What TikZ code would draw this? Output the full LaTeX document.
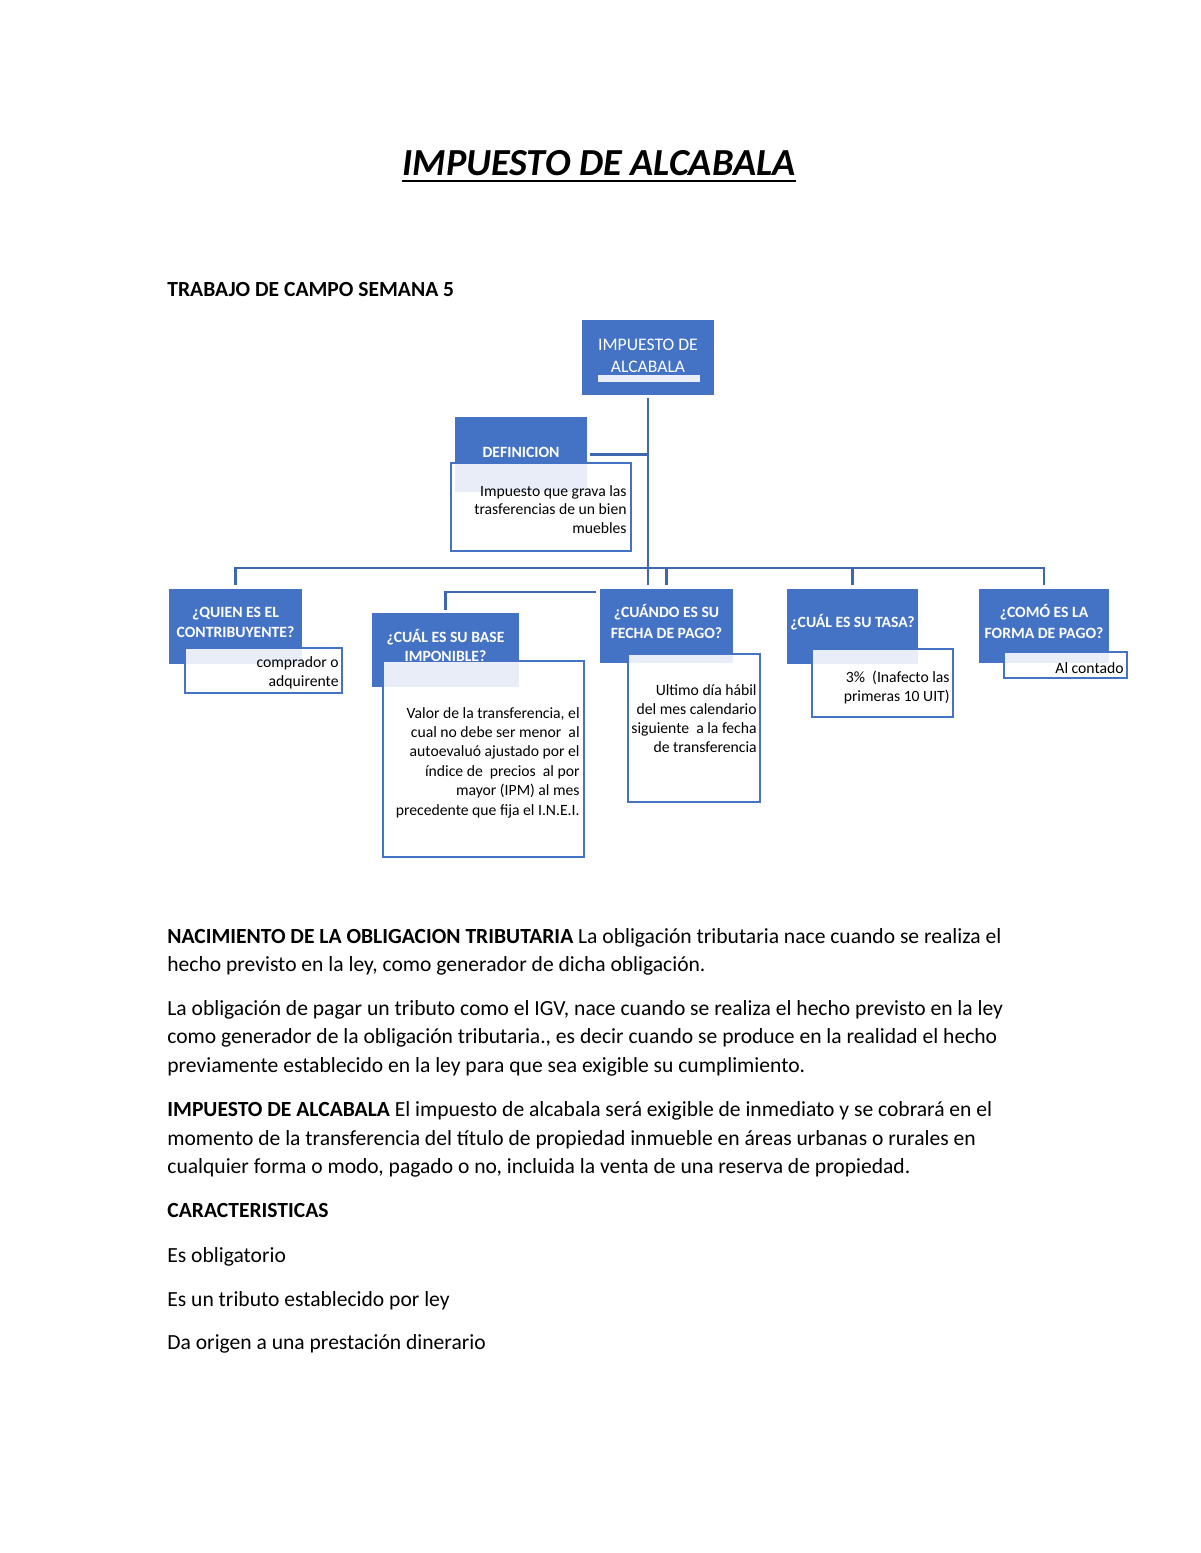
\documentclass[tikz,border=0pt]{standalone}
\usepackage{fontspec}
\setmainfont{Carlito}
\definecolor{sablue}{HTML}{4472C4}
\definecolor{lnblue}{HTML}{3F67B0}
\definecolor{lightbar}{HTML}{E9EEF8}
\newcommand\mkbox[6]{\node[#1, minimum width={(#5-#3)*0.51pt}, minimum height={(#6-#4)*0.51pt}] (#2) at ({(#3+#5)/2},{(#4+#6)/2}) {};}
\tikzset{
  hdrbox/.style={rectangle, fill=sablue, draw=none, inner sep=0pt, outer sep=0pt},
  txtbox/.style={rectangle, fill=white, fill opacity=0.88, draw=sablue, draw opacity=1, line width=1pt, inner sep=0pt, outer sep=0pt},
  barbox/.style={rectangle, fill=lightbar, draw=none, inner sep=0pt},
  conn/.style={draw=lnblue, line width=1.3pt},
  htxt/.style={inner sep=0pt, text=white, font=\fontsize{8}{9.6}\selectfont\bfseries, anchor=base},
  rtxt/.style={inner sep=0pt, text=white, font=\fontsize{9}{10.8}\selectfont, anchor=base},
  btxt/.style={inner sep=0pt, text=black, font=\fontsize{8}{9.6}\selectfont, anchor=base east},
  body/.style={inner sep=0pt, text=black, font=\fontsize{11}{13.4}\selectfont, anchor=base west},
}
\begin{document}
\begin{tikzpicture}[x=0.51pt, y=-0.51pt]
\useasboundingbox (0,0) rectangle (1200,1553);

% title
\node[inner sep=0pt, anchor=base, font=\fontsize{19.5}{23}\selectfont\bfseries\itshape] (title) at (599,176) {IMPUESTO DE ALCABALA};
\draw[line width=1.3pt] ([shift={(0,5)}]title.base west) -- ([shift={(0,5)}]title.base east);

\node[body] (sub) at (167,296) {\textbf{TRABAJO DE CAMPO SEMANA 5}};

% connectors
\coordinate (bar) at (648,568);
\coordinate (bEnd) at (596,592);

% boxes (drawn after connectors where needed)
\mkbox{hdrbox}{root}{582}{320}{714}{395}
\mkbox{barbox}{rootbar}{598}{375}{700}{382}
\mkbox{hdrbox}{hd}{455}{417}{587}{492}
\mkbox{hdrbox}{hq}{169}{589}{302}{664}
\mkbox{hdrbox}{hb}{372}{613}{519}{687}
\mkbox{hdrbox}{hc}{600}{589}{733}{663}
\mkbox{hdrbox}{ht}{787}{589}{918}{664}
\mkbox{hdrbox}{hm}{979}{589}{1109}{663}

\draw[conn] ([shift={(0,3)}]root.south) -- ([shift={(0,-4)}]root.south |- hc.north);
\draw[conn] ([shift={(3,0)}]hd.east) -- (hd.east -| root.south);
\draw[conn] ([shift={(0,-4)}]hq.north) |- (bar) -| ([shift={(0,-4)}]hm.north);
\draw[conn] (bar -| hc.north) -- ([shift={(0,-4)}]hc.north);
\draw[conn] (bar -| ht.north) -- ([shift={(0,-4)}]ht.north);
\draw[conn] ([shift={(0,-3)}]hb.north) |- (bEnd);

\mkbox{txtbox}{td}{451}{463}{631}{551}
\mkbox{txtbox}{tq}{185}{648}{342}{693}
\mkbox{txtbox}{tb}{383}{661}{584}{857}
\mkbox{txtbox}{tc}{628}{654}{760}{802}
\mkbox{txtbox}{tt}{812}{649}{953}{717}
\mkbox{txtbox}{tm}{1004}{652}{1127}{678}

% header texts
\node[rtxt] (r1) at (648,350) {IMPUESTO DE};
\node[rtxt] (r2) at (648,372) {ALCABALA};
\node[htxt] (d1) at (521,457) {DEFINICION};
\node[htxt] (q1) at (235.5,617) {¿QUIEN ES EL};
\node[htxt] (q2) at (235.5,637) {CONTRIBUYENTE?};
\node[htxt] (b1) at (445.5,642) {¿CUÁL ES SU BASE};
\node[htxt] (b2) at (445.5,661) {IMPONIBLE?};
\node[htxt] (c1) at (666.5,617) {¿CUÁNDO ES SU};
\node[htxt] (c2) at (666.5,638) {FECHA DE PAGO?};
\node[htxt] (t1) at (852.5,627) {¿CUÁL ES SU TASA?};
\node[htxt] (m1) at (1044,617) {¿COMÓ ES LA};
\node[htxt] (m2) at (1044,638) {FORMA DE PAGO?};

% box texts
\foreach \t [count=\i] in {Impuesto que grava las, trasferencias de un bien, muebles}
  \node[btxt] (dt\i) at (627,{496+18.5*(\i-1)}) {\t};
\foreach \t [count=\i] in {comprador o, adquirente}
  \node[btxt] (qt\i) at (339,{667+19*(\i-1)}) {\t};
\foreach \t [count=\i] in {{Valor de la transferencia, el}, cual no debe ser menor\ \ al, autoevaluó ajustado por el, índice de\ \ precios\ \ al por, mayor (IPM) al mes, precedente que fija el I.N.E.I.}
  \node[btxt] (bt\i) at (580,{718+19.4*(\i-1)}) {\t};
\foreach \t [count=\i] in {Ultimo día hábil, del mes calendario, siguiente\ \ a la fecha, de transferencia}
  \node[btxt] (ct\i) at (757,{695+19.3*(\i-1)}) {\t};
\foreach \t [count=\i] in {3\%\ \ (Inafecto las, primeras 10 UIT)}
  \node[btxt] (tt\i) at (950,{682+19*(\i-1)}) {\t};
\node[btxt] (mt1) at (1124,673) {Al contado};

% body text
\node[body] (p1) at (167,943) {\textbf{NACIMIENTO DE LA OBLIGACION TRIBUTARIA} La obligación tributaria nace cuando se realiza el};
\node[body] (p2) at (167,971) {hecho previsto en la ley, como generador de dicha obligación.};
\node[body] (p3) at (167,1015) {La obligación de pagar un tributo como el IGV, nace cuando se realiza el hecho previsto en la ley};
\node[body] (p4) at (167,1043) {como generador de la obligación tributaria., es decir cuando se produce en la realidad el hecho};
\node[body] (p5) at (167,1072) {previamente establecido en la ley para que sea exigible su cumplimiento.};
\node[body] (p6) at (167,1116) {\textbf{IMPUESTO DE ALCABALA} El impuesto de alcabala será exigible de inmediato y se cobrará en el};
\node[body] (p7) at (167,1145) {momento de la transferencia del título de propiedad inmueble en áreas urbanas o rurales en};
\node[body] (p8) at (167,1173) {cualquier forma o modo, pagado o no, incluida la venta de una reserva de propiedad.};
\node[body] (p9) at (167,1217) {\textbf{CARACTERISTICAS}};
\node[body] (p10) at (167,1262) {Es obligatorio};
\node[body] (p11) at (167,1306) {Es un tributo establecido por ley};
\node[body] (p12) at (167,1349) {Da origen a una prestación dinerario};
\end{tikzpicture}
\end{document}
